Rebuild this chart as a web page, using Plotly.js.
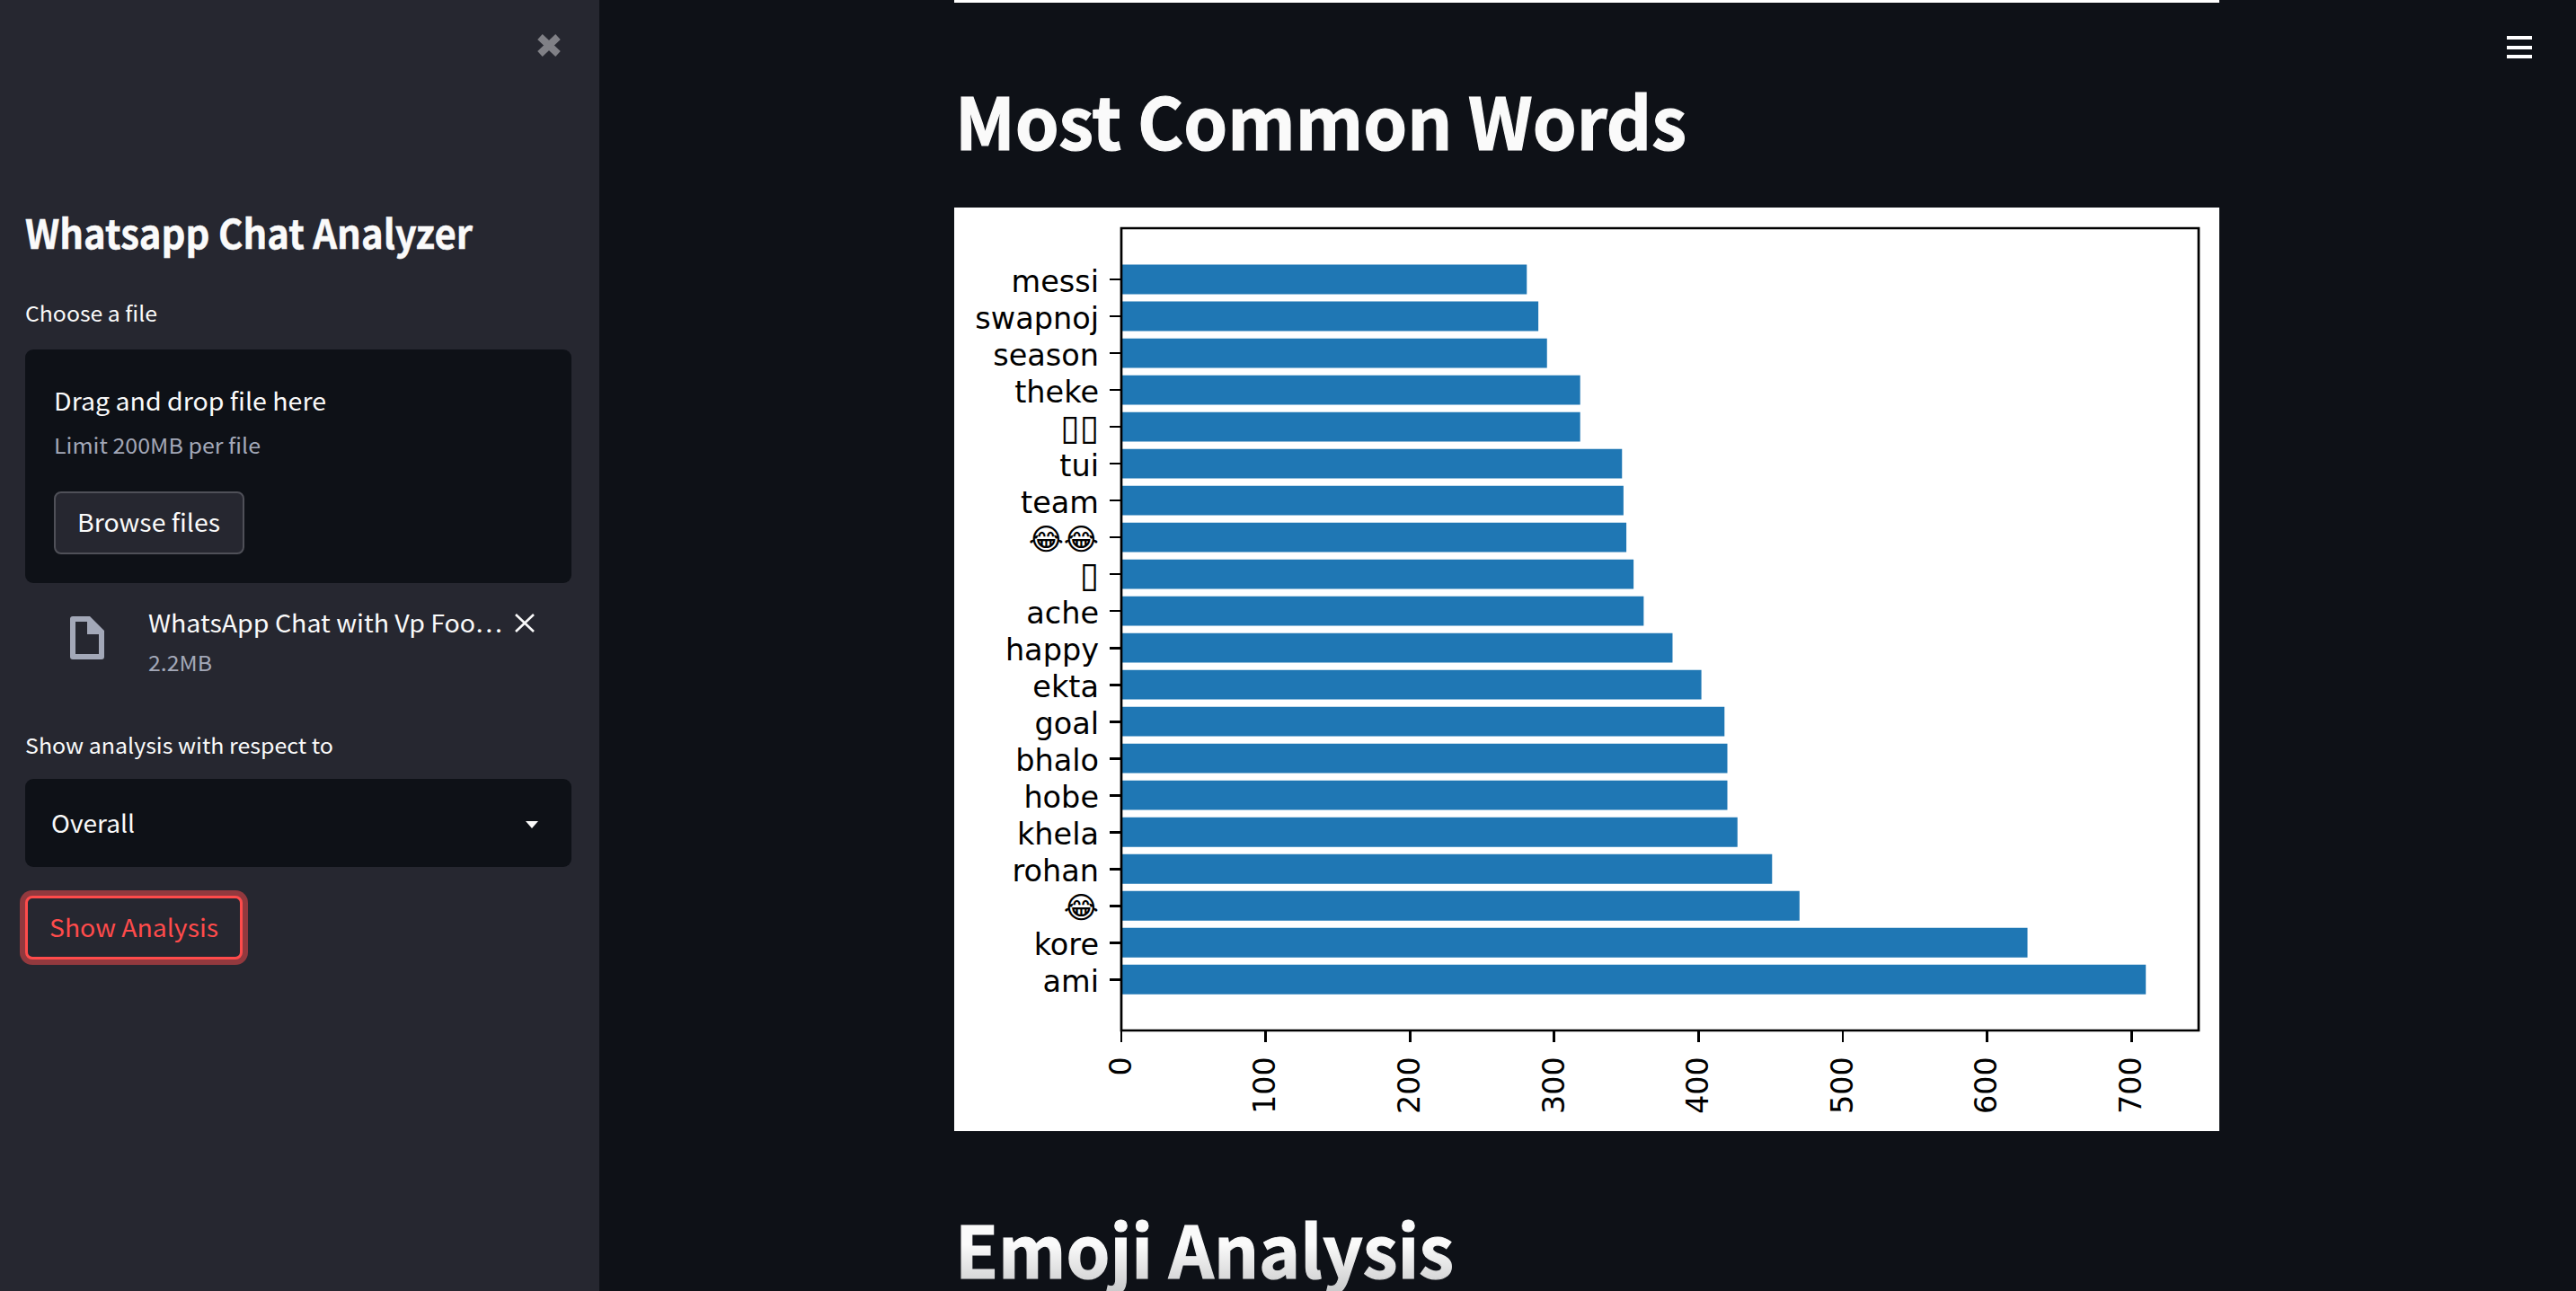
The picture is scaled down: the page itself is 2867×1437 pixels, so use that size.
<!DOCTYPE html>
<html lang="en">
<head>
<meta charset="utf-8">
<title>Whatsapp Chat Analyzer</title>
<script src="https://cdn.plot.ly/plotly-3.0.1.min.js"></script>
<style>
html,body{margin:0;padding:0;width:2867px;height:1437px;overflow:hidden;background:#0e1117}
.box{position:absolute;box-sizing:border-box}
.t{position:absolute;white-space:pre;font-family:"Noto Sans CJK SC","Noto Sans",sans-serif;transform-origin:0 0}
svg.ic{position:absolute;overflow:visible}
</style>
</head>
<body>
<div class="box" style="left:0;top:0;width:667px;height:1437px;background:#262730"></div>
<div class="box" style="left:28px;top:389px;width:608px;height:260px;background:#0e1117;border-radius:9px"></div>
<div class="box" style="left:60px;top:547px;width:212px;height:70px;background:#262730;border:2px solid #4f5058;border-radius:8px"></div>
<div class="box" style="left:28px;top:867px;width:608px;height:98px;background:#0e1117;border-radius:9px"></div>
<div class="box" style="left:28px;top:997px;width:242px;height:71px;background:#262730;border:3px solid #ff4b4b;border-radius:8px;box-shadow:0 0 0 6px rgba(255,75,75,.5)"></div>
<svg class="ic" style="left:0;top:0" width="667" height="1437">
  <path d="M601 41 L621 60 M621 41 L601 60" stroke="#808086" stroke-width="8" fill="none"/>
  <path d="M574 684 L594 703 M594 684 L574 703" stroke="#fafafa" stroke-width="2.6" fill="none"/>
  <path d="M78 689 a3 3 0 0 1 3 -3 H100 L116 702 V731 a3 3 0 0 1 -3 3 H81 a3 3 0 0 1 -3 -3 Z M84 692 V728 H110 V706 H97 V692 Z" fill="#a3a8b8" fill-rule="evenodd"/>
  <path d="M585 914 H599 L592 922 Z" fill="#fafafa"/>
</svg>
<div class="box" style="left:1062px;top:0;width:1408px;height:3px;background:#fff"></div>
<div class="box" style="left:2790px;top:40px;width:28px;height:4px;background:#fff"></div>
<div class="box" style="left:2790px;top:51px;width:28px;height:4px;background:#fff"></div>
<div class="box" style="left:2790px;top:61px;width:28px;height:4px;background:#fff"></div>
<div id="chart" class="box" style="left:1062px;top:231px;width:1408px;height:1028px"></div>
<div id="labels"></div>
<div class="box" style="left:667px;top:1385px;width:2200px;height:52px;background:linear-gradient(rgba(14,17,23,0),rgba(14,17,23,.2))"></div>
<script>
// Bar chart data, bottom row first
var words = ["ami","kore","😂\uFE0E","rohan","khela","hobe","bhalo","goal","ekta","happy","ache","▯ ","😂\uFE0E😂\uFE0E","team","tui","▯▯","theke","season","swapnoj","messi"];
var counts = [710,628,470,451,427,420,420,418,402,382,362,355,350,348,347,318,318,295,289,281];
var xTickValues = [0,100,200,300,400,500,600,700];
var xTickLabels = ["0","100","200","300","400","500","600","700"];
var barColor = "#1f77b4";

// Page text
var sidebarTitle = "Whatsapp Chat Analyzer";
var mainHeadings = ["Most Common Words","Emoji Analysis"];

// text, left, baseline, font size, weight, colour, target width, outline
var pageText = [
 [sidebarTitle,28,277,45,700,"#fafafa",498,0.5],
 ["Choose a file",28,358,23.5,400,"#fafafa",147,0],
 ["Drag and drop file here",60,457,26.5,400,"#fafafa",303,0],
 ["Limit 200MB per file",60,505,23.5,400,"#a3a8b8",230,0],
 ["Browse files",86,592,26.5,400,"#fafafa",159,0],
 ["WhatsApp Chat with Vp Foo…",165,704,26.5,400,"#fafafa",394,0],
 ["2.2MB",165,747,23.5,400,"#a3a8b8",71,0],
 ["Show analysis with respect to",28,839,23.5,400,"#fafafa",343,0],
 ["Overall",57,927,26.5,400,"#fafafa",93,0],
 ["Show Analysis",55,1043,26.5,400,"#ff4b4b",188,0],
 [mainHeadings[0],1062.5,167,80,700,"#fafafa",814,1.2],
 [mainHeadings[1],1062.5,1423,80,700,"#fafafa",555,1.2]
];

var host = document.getElementById("labels");
pageText.forEach(function(r){
  var d = document.createElement("div");
  d.className = "t";
  d.textContent = r[0];
  d.style.cssText = "left:"+r[1]+"px;top:0;font-size:"+r[3]+"px;font-weight:"+r[4]+";color:"+r[5]+";line-height:1.2"+
    (r[7] ? ";-webkit-text-stroke:"+r[7]+"px "+r[5] : "");
  var s = document.createElement("span");
  s.style.cssText = "display:inline-block;width:0;height:0";
  d.appendChild(s);
  host.appendChild(d);
  var base = s.getBoundingClientRect().bottom;
  var w = d.getBoundingClientRect().width;
  d.style.top = (r[2]-base)+"px";
  d.style.transform = "scaleX("+(r[6]/w)+")";
});

// Missing-glyph rows are drawn larger, as the reference's boxes are;
// a narrow trailing space keeps the labels clear of the tick marks
var yTickText = words.map(function(w){
  return (w.indexOf("▯")>=0 ? '<span style="font-size:39px">'+w.trim()+'</span>' : w) + "\u2006";
});

var tickFont = {family:"DejaVu Sans", size:33.5, color:"#000000"};
var trace = {
  type:"bar", orientation:"h",
  y:words, x:counts, width:0.8,
  marker:{color:barColor, line:{width:0}},
  hoverinfo:"skip"
};
var layout = {
  width:1408, height:1028,
  margin:{l:186, r:23, t:23, b:112.3, pad:0},
  paper_bgcolor:"#ffffff", plot_bgcolor:"#ffffff",
  showlegend:false, bargap:0.2,
  shapes:[{type:"rect", xref:"paper", yref:"paper", x0:0, x1:1, y0:0, y1:1,
    line:{color:"#000", width:2.7}, fillcolor:"rgba(0,0,0,0)", layer:"above"}],
  xaxis:{range:[0,746.6], tickmode:"array", tickvals:xTickValues, ticktext:xTickLabels,
    tickangle:-90, ticks:"outside", ticklen:11.7, tickwidth:2.7, tickcolor:"#000",
    showline:false, showgrid:false, zeroline:false,
    tickfont:tickFont, ticklabelstandoff:3},
  yaxis:{type:"category", categoryorder:"array", categoryarray:words, range:[-1.383,20.39],
    tickmode:"array", tickvals:words, ticktext:yTickText,
    ticks:"outside", ticklen:11.7, tickwidth:2.7, tickcolor:"#000",
    showline:false, showgrid:false, zeroline:false,
    tickfont:tickFont, ticklabelshift:2}
};
Plotly.newPlot("chart",[trace],layout,{displayModeBar:false,staticPlot:true});
</script>
</body>
</html>
